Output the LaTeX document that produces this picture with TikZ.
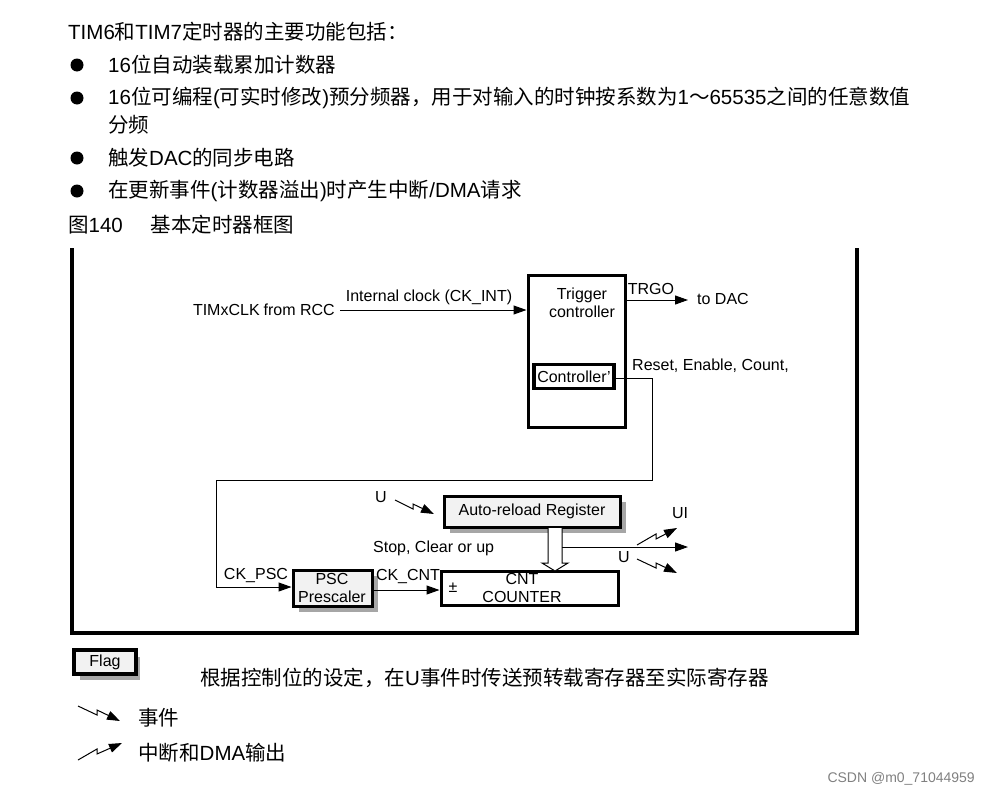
\documentclass[tikz,border=0pt]{standalone}
\usepackage{fontspec}
\setmainfont{Liberation Sans}
\newfontfamily\cjk{Noto Sans CJK SC}
\usetikzlibrary{arrows.meta}
\begin{document}
\begin{tikzpicture}[x=1pt,y=-1pt,
  every node/.style={inner sep=0pt},
  bigtxt/.style={font=\fontsize{20.5}{24}\selectfont,anchor=west},
  lbl/.style={font=\fontsize{16}{18}\selectfont},
  arr/.style={-{Triangle[length=13pt,width=9pt]},line width=1pt},
  thin/.style={line width=1pt},
  shbox/.style={draw,line width=3pt,fill=gray!10},
  shadow/.style={fill=gray!70,draw=none},
  evt/.style={line width=1pt,-{Triangle[length=13pt,width=9pt]}}]
\useasboundingbox (0,0) rectangle (988,798);
% text block
\node[bigtxt] (t1) at (68,32) {TIM6{\cjk 和}TIM7{\cjk 定时器的主要功能包括：}};
\foreach \y in {65,98,158,191}{\fill (77,\y) circle (6.5);}
\node[bigtxt] (l1) at (108,65) {16{\cjk 位自动装载累加计数器}};
\node[bigtxt] (l2) at (108,98) {16{\cjk 位可编程}({\cjk 可实时修改}){\cjk 预分频器，用于对输入的时钟按系数为}1{\cjk ～}65535{\cjk 之间的任意数值}};
\node[bigtxt] (l2b) at (108,125) {{\cjk 分频}};
\node[bigtxt] (l3) at (108,158) {{\cjk 触发}DAC{\cjk 的同步电路}};
\node[bigtxt] (l4) at (108,191) {{\cjk 在更新事件}({\cjk 计数器溢出}){\cjk 时产生中断}/DMA{\cjk 请求}};
\node[bigtxt] (fig) at (68,225) {{\cjk 图}140\hspace{28pt}{\cjk 基本定时器框图}};
% frame
\draw[line width=3.5pt] (72,248) -- (72,633) -- (857,633) -- (857,248);
% trigger controller
\node[draw,line width=3pt,minimum width=97pt,minimum height=152pt] (trig) at (576.5,351) {};
\node[lbl,align=center] (trigt) at (582,303) {Trigger\\controller};
\node[draw,line width=3.5pt,fill=white,minimum width=80pt,minimum height=24pt,lbl] (ctrl) at (574,376.5) {Controller'};
\node[lbl,anchor=east] (rcc) at (335,310) {TIMxCLK\hspace{4pt}from RCC};
\coordinate (rccend) at (340,310);
\draw[arr] (rccend) -- (trig.west |- rccend);
\node[lbl] (ckint) at (429,297) {Internal clock (CK\_INT)};
\coordinate (dac) at (688,300);
\draw[arr] (trig.east |- dac) -- (dac);
\node[lbl] (trgo) at (651,289) {TRGO};
\node[lbl,anchor=west] (todac) at (697,299) {to DAC};
\node[lbl,anchor=west] (rst) at (632,366) {Reset, Enable, Count,};
% PSC
\fill[shadow] (299,576) rectangle (378,612);
\node[shbox,minimum width=79pt,minimum height=36pt] (psc) at (332.5,588) {};
\node[lbl,align=center] (psct) at (332,588) {PSC\\Prescaler};
\coordinate (a1) at (652,378); \coordinate (a2) at (652,480); \coordinate (a3) at (216,480); \coordinate (a4) at (216,587);
\draw[thin] (ctrl.east |- a1) -- (a1) -- (a2) -- (a3) -- (a4);
\draw[arr] (a4) -- (psc.west |- a4);
\node[lbl] (ckpsc) at (256,575) {CK\_PSC};
% CNT
\node[draw,line width=3pt,minimum width=177pt,minimum height=34pt] (cnt) at (529.5,588) {};
\node[lbl,align=center] (cntt) at (522,588) {CNT\\COUNTER};
\node[lbl] (pm) at (453,588) {±};
\draw[arr] (psc.east |- 0,590) -- (cnt.west |- 0,590);
\node[lbl] (ckcnt) at (408,576) {CK\_CNT};
% ARR
\fill[shadow] (450,502) rectangle (626,533);
\node[shbox,minimum width=176pt,minimum height=31pt,lbl] (arrg) at (532,511.5) {Auto-reload Register};
\draw[thin,fill=white] (548,528) -- (548,563) -- (542,563) -- (555,571) -- (568,563) -- (562,563) -- (562,528);
\coordinate (o1) at (562,547); \coordinate (o2) at (688,547);
\draw[arr] (o1) -- (o2);
\node[lbl,anchor=west] (stop) at (373,548) {Stop, Clear or up};
% zigzags
\node[lbl] (u1) at (381,497) {U};
\draw[evt] (395,500) -- (413,509) -- (413,504) -- (434,514);
\node[lbl] (ui) at (680,513) {UI};
\draw[evt] (637,545) -- (656,534) -- (656,539) -- (677,528);
\node[lbl] (u2) at (624,557) {U};
\draw[evt] (637,559) -- (656,568) -- (656,563) -- (677,573);
% legend
\fill[shadow] (80,657) rectangle (140,680);
\node[draw,line width=3.5pt,fill=gray!10,minimum width=62pt,minimum height=24pt,lbl] (flag) at (105,662) {Flag};
\node[bigtxt] (flagt) at (200,678) {{\cjk 根据控制位的设定，在}U{\cjk 事件时传送预转载寄存器至实际寄存器}};
\draw[evt] (78,706) -- (97,715) -- (97,710) -- (120,721);
\node[bigtxt] (ev) at (138,718) {{\cjk 事件}};
\draw[evt] (78,760) -- (97,749) -- (97,754) -- (122,743);
\node[bigtxt] (irq) at (138,753) {{\cjk 中断和}DMA{\cjk 输出}};
\node[anchor=east,font=\fontsize{14}{16}\selectfont,text=gray] (wm) at (975,779) {CSDN @m0\_71044959};
\end{tikzpicture}
\end{document}
